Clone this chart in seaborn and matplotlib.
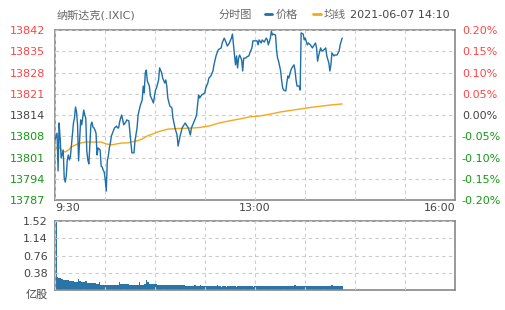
import numpy as np
import pandas as pd
import matplotlib
matplotlib.use("Agg")
import matplotlib.pyplot as plt
import seaborn as sns

sns.set_theme(style="white")
plt.rcParams['font.family'] = ['DejaVu Sans', 'Noto Sans CJK SC']
plt.rcParams['axes.unicode_minus'] = False

# ---------------- data ----------------
title = "纳斯达克(.IXIC)"
chart_name = "分时图"
series_names = ["价格", "均线"]
stamp = "2021-06-07 14:10"
prev_close = 13814.5

price_min = [0, 2, 3, 4, 5, 6, 8, 9, 10, 11, 12, 13, 14, 15, 17, 18, 19, 20, 21, 22,
             23, 24, 25, 26, 27, 28, 29, 30, 31, 32, 33, 34, 35, 36, 37, 38, 39, 40, 41, 42,
             44, 45, 46, 47, 48, 49, 50, 51, 52, 53, 54, 55, 56, 57, 58, 60, 61, 62, 63, 64,
             65, 66, 67, 69, 70, 72, 74, 75, 77, 78, 80, 81, 83, 85, 86, 87, 88, 89, 90, 92,
             93, 94, 96, 97, 98, 99, 101, 102, 104, 105, 107, 108, 109, 110, 112, 114, 115, 117, 119, 120,
             122, 124, 125, 127, 128, 130, 132, 133, 135, 137, 138, 139, 140, 141, 143, 146, 147, 149, 150, 152,
             154, 155, 157, 159, 160, 162, 163, 165, 167, 168, 170, 172, 173, 174, 175, 176, 177, 178, 179, 180,
             182, 183, 184, 186, 187, 189, 190, 192, 193, 195, 197, 198, 199, 201, 202, 204, 206, 207, 208, 210,
             211, 212, 213, 215, 216, 217, 218, 220, 221, 222, 223, 225, 226, 227, 228, 230, 231, 233, 234, 235,
             236, 238, 239, 240, 242, 243, 244, 246, 247, 249, 251, 252, 254, 255, 256, 257, 259, 260, 262, 264,
             265, 267, 268, 269, 270, 272, 273, 275, 277, 278, 280]
price_val = [13806.4, 13808.6, 13796.3, 13811.9, 13807.0, 13800.5, 13803.1, 13794.0, 13792.7, 13794.7,
             13799.9, 13801.5, 13799.9, 13800.9, 13808.0, 13811.9, 13813.5, 13817.1, 13815.5, 13811.3,
             13799.6, 13806.4, 13812.9, 13811.3, 13813.5, 13816.1, 13814.5, 13813.5, 13802.8, 13799.9,
             13798.6, 13804.8, 13811.3, 13812.2, 13810.6, 13810.3, 13809.6, 13808.6, 13801.5, 13803.8,
             13803.1, 13797.9, 13797.6, 13796.6, 13795.9, 13793.4, 13789.8, 13799.6, 13801.2, 13803.8,
             13805.4, 13807.7, 13808.6, 13809.6, 13810.3, 13810.9, 13810.3, 13810.3, 13812.2, 13813.5,
             13814.5, 13812.9, 13811.3, 13812.2, 13812.9, 13812.6, 13805.4, 13802.2, 13802.2, 13806.1,
             13810.3, 13814.5, 13817.4, 13819.4, 13823.9, 13821.7, 13828.2, 13829.1, 13825.6, 13823.9,
             13820.7, 13820.0, 13818.4, 13820.7, 13822.6, 13823.3, 13825.9, 13829.8, 13828.2, 13826.5,
             13824.9, 13825.9, 13823.9, 13820.0, 13817.4, 13816.8, 13813.5, 13810.3, 13808.0, 13804.4,
             13807.7, 13810.3, 13810.9, 13811.9, 13811.3, 13810.3, 13808.0, 13810.3, 13811.9, 13813.5,
             13814.5, 13817.8, 13821.0, 13820.0, 13821.0, 13821.7, 13823.3, 13824.9, 13826.5, 13827.2,
             13828.8, 13830.8, 13833.7, 13835.6, 13835.9, 13836.3, 13837.9, 13839.5, 13837.9, 13836.9,
             13837.9, 13839.5, 13840.8, 13837.3, 13834.0, 13830.8, 13833.7, 13829.8, 13833.0, 13834.0,
             13832.4, 13828.8, 13833.0, 13833.0, 13833.4, 13833.7, 13834.7, 13836.3, 13838.6, 13838.6,
             13838.6, 13837.3, 13838.9, 13837.9, 13838.9, 13838.2, 13839.5, 13838.9, 13837.3, 13839.5,
             13841.8, 13840.5, 13840.8, 13840.5, 13835.6, 13833.0, 13832.0, 13828.8, 13825.6, 13823.3,
             13822.6, 13822.3, 13824.9, 13827.2, 13826.5, 13829.1, 13829.8, 13830.8, 13829.1, 13825.9,
             13823.9, 13823.9, 13822.6, 13841.2, 13840.8, 13838.9, 13839.5, 13837.3, 13837.9, 13837.3,
             13836.3, 13836.9, 13837.9, 13836.3, 13832.0, 13833.7, 13836.3, 13835.3, 13835.6, 13836.3,
             13833.7, 13831.4, 13828.8, 13830.8, 13834.7, 13833.7, 13834.0, 13834.0, 13835.3, 13837.3,
             13839.5]

avg_min = [0, 1, 2, 3, 5, 7, 10, 13, 16, 20, 25, 30, 40, 45, 50, 55, 60, 65, 70, 80,
           85, 90, 95, 100, 110, 120, 130, 140, 150, 160, 170, 180, 190, 200, 210, 220, 230, 240, 250, 260,
           270, 280]
avg_val = [13804.4, 13803.5, 13803.8, 13804.8, 13803.5, 13802.8, 13802.5, 13803.1, 13804.1, 13804.8,
           13805.4, 13805.7, 13805.7, 13805.7, 13805.1, 13804.8, 13805.1, 13805.4, 13805.4, 13806.1,
           13806.7, 13807.7, 13808.3, 13809.0, 13809.9, 13810.1, 13810.2, 13810.4, 13810.9, 13811.9,
           13812.6, 13813.2, 13813.9, 13814.2, 13814.8, 13815.5, 13816.0, 13816.5, 13817.0, 13817.4,
           13817.8, 13818.1]

volume = [1.52, 0.28, 0.27, 0.27, 0.26, 0.25, 0.25, 0.22, 0.21, 0.21,
          0.21, 0.23, 0.23, 0.19, 0.19, 0.20, 0.20, 0.20, 0.18, 0.18,
          0.18, 0.24, 0.20, 0.20, 0.18, 0.18, 0.17, 0.17, 0.19, 0.19,
          0.16, 0.16, 0.15, 0.15, 0.15, 0.15, 0.15, 0.15, 0.15, 0.13,
          0.13, 0.13, 0.17, 0.12, 0.12, 0.12, 0.12, 0.12, 0.12, 0.12,
          0.12, 0.12, 0.12, 0.12, 0.11, 0.11, 0.11, 0.11, 0.11, 0.11,
          0.11, 0.18, 0.13, 0.13, 0.13, 0.13, 0.13, 0.13, 0.14, 0.14,
          0.14, 0.12, 0.12, 0.12, 0.12, 0.12, 0.12, 0.12, 0.12, 0.12,
          0.12, 0.17, 0.11, 0.11, 0.11, 0.11, 0.14, 0.14, 0.21, 0.17,
          0.17, 0.14, 0.14, 0.14, 0.14, 0.13, 0.13, 0.13, 0.10, 0.10,
          0.10, 0.10, 0.12, 0.12, 0.12, 0.12, 0.10, 0.10, 0.10, 0.10,
          0.10, 0.12, 0.12, 0.10, 0.10, 0.10, 0.10, 0.10, 0.10, 0.10,
          0.10, 0.10, 0.10, 0.10, 0.10, 0.12, 0.08, 0.08, 0.08, 0.08,
          0.08, 0.08, 0.08, 0.08, 0.08, 0.10, 0.08, 0.08, 0.08, 0.08,
          0.10, 0.08, 0.08, 0.08, 0.08, 0.08, 0.08, 0.08, 0.08, 0.08,
          0.08, 0.08, 0.08, 0.08, 0.08, 0.08, 0.08, 0.10, 0.08, 0.08,
          0.08, 0.07, 0.08, 0.08, 0.08, 0.08, 0.07, 0.08, 0.08, 0.08,
          0.08, 0.08, 0.08, 0.08, 0.08, 0.07, 0.08, 0.08, 0.08, 0.08,
          0.08, 0.08, 0.08, 0.08, 0.08, 0.08, 0.08, 0.08, 0.08, 0.08,
          0.08, 0.08, 0.07, 0.08, 0.08, 0.08, 0.08, 0.08, 0.08, 0.08,
          0.08, 0.08, 0.08, 0.08, 0.08, 0.08, 0.08, 0.08, 0.08, 0.08,
          0.08, 0.08, 0.08, 0.08, 0.08, 0.08, 0.08, 0.08, 0.08, 0.08,
          0.08, 0.08, 0.08, 0.08, 0.08, 0.08, 0.08, 0.08, 0.08, 0.08,
          0.08, 0.09, 0.10, 0.10, 0.08, 0.08, 0.08, 0.08, 0.08, 0.08,
          0.08, 0.08, 0.08, 0.08, 0.08, 0.08, 0.08, 0.08, 0.08, 0.08,
          0.08, 0.08, 0.08, 0.08, 0.08, 0.08, 0.08, 0.08, 0.08, 0.09,
          0.09, 0.08, 0.09, 0.08, 0.09, 0.09, 0.08, 0.08, 0.10, 0.11,
          0.09, 0.08, 0.09, 0.08, 0.08, 0.08, 0.08, 0.08, 0.08, 0.08]

pct_levels = [-0.0020, -0.0015, -0.0010, -0.0005, 0.0, 0.0005, 0.0010, 0.0015, 0.0020]
price_labels = ["13787", "13794", "13801", "13808", "13814", "13821", "13828", "13835", "13842"]
pct_labels = ["-0.20%", "-0.15%", "-0.10%", "-0.05%", "0.00%", "0.05%", "0.10%", "0.15%", "0.20%"]
time_labels = ["9:30", "", "", "", "13:00", "", "", "", "16:00"]
vol_ticks = [0.0, 0.38, 0.76, 1.14, 1.52]
vol_labels = ["亿股", "0.38", "0.76", "1.14", "1.52"]

# ---------------- styling ----------------
C_PRICE = "#1f6fa8"
C_AVG = "#f5a81c"
C_VOL = "#2a74a8"
C_UP = "#ff4444"
C_DN = "#149a14"
C_TXT = "#444444"
C_SPINE = "#888888"
C_GRID = "#cccccc"
FS = 8

fig = plt.figure(figsize=(5.05, 3.10), dpi=100)
ax = fig.add_axes([55/505, 1-200/310, 400/505, 170/310])
axv = fig.add_axes([55/505, 1-290/310, 400/505, 69/310])

price_df = pd.DataFrame({"t": price_min, "p": price_val})
avg_df = pd.DataFrame({"t": avg_min, "p": avg_val})
vol_df = pd.DataFrame({"t": np.arange(len(volume)) + 1.5, "v": volume})

sns.lineplot(data=avg_df, x="t", y="p", ax=ax, color=C_AVG, lw=1.0, estimator=None, zorder=3)
sns.lineplot(data=price_df, x="t", y="p", ax=ax, color=C_PRICE, lw=1.0, estimator=None, zorder=4)

sns.histplot(data=vol_df, x="t", weights="v", binwidth=1, binrange=(1, len(volume) + 1), ax=axv,
             color=C_VOL, alpha=1, linewidth=0, zorder=2)

xt = np.linspace(0, 390, 9)
ylevels = [prev_close * (1 + p) for p in pct_levels]

for a in (ax, axv):
    a.set_xlim(0, 390)
    a.set_xticks(xt)
    a.set_xlabel("")
    a.set_ylabel("")
    a.grid(True, axis="both", linestyle=(0, (3, 3)), color=C_GRID, lw=0.8, zorder=5)
    a.set_axisbelow(False)
    for s in a.spines.values():
        s.set_color(C_SPINE)
        s.set_linewidth(1.2)
    a.tick_params(length=0)

ax.set_ylim(ylevels[0], ylevels[-1])
ax.set_yticks(ylevels)
ax.set_yticklabels(price_labels, fontsize=FS)
ax.tick_params(axis="y", pad=7)
ax.set_xticklabels(time_labels, fontsize=FS, color=C_TXT)
ax.tick_params(axis="x", pad=2)
xl = ax.get_xticklabels()
xl[0].set_ha("left")
xl[-1].set_ha("right")

def col(p):
    return C_UP if p > 0 else (C_DN if p < 0 else C_TXT)

for lab, p in zip(ax.get_yticklabels(), pct_levels):
    lab.set_color(col(p))

ax2 = ax.twinx()
ax2.set_ylim(ax.get_ylim())
ax2.set_yticks(ylevels)
ax2.set_yticklabels(pct_labels, fontsize=FS)
ax2.tick_params(length=0, pad=5)
for s in ax2.spines.values():
    s.set_visible(False)
for lab, p in zip(ax2.get_yticklabels(), pct_levels):
    lab.set_color(col(p))

axv.set_ylim(0, 1.52)
axv.set_yticks(vol_ticks)
axv.set_yticklabels(vol_labels, fontsize=FS, color=C_TXT)
axv.tick_params(axis="y", pad=5)
axv.set_xticklabels([])
axv.get_yticklabels()[0].set_va("top")

# header
fig.text(57/505, 1-15/310, title, fontsize=FS, color="#666666", va="center", ha="left")
fig.text(219/505, 1-15/310, chart_name, fontsize=FS, color="#666666", va="center", ha="left")
handles = ax.get_lines()
leg = fig.legend([handles[1], handles[0]], series_names, loc="center left",
                 bbox_to_anchor=(265/505, 1-15/310), ncol=2, frameon=False,
                 fontsize=FS, handlelength=0.65, handletextpad=0.3, columnspacing=1.4,
                 borderpad=0, borderaxespad=0)
for t in leg.get_texts():
    t.set_color("#666666")
for lh in leg.legend_handles:
    lh.set_linewidth(2.0)
fig.text(350/505, 1-15/310, stamp, fontsize=FS, color=C_TXT, va="center", ha="left")

fig.savefig("out.png", dpi=100)
